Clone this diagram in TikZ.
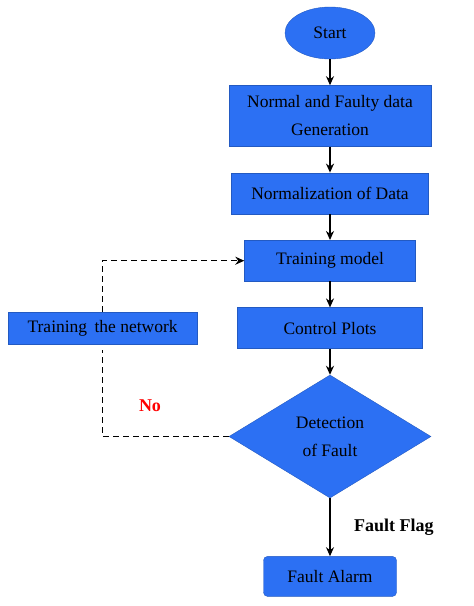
\documentclass[tikz,border=0pt]{standalone}
\usepackage{fontspec}
\setmainfont{Liberation Serif}
\usetikzlibrary{
  arrows.meta,
  shapes.geometric,
  positioning
}
\definecolor{boxblue}{RGB}{44,112,243}
\tikzset{
  >={Stealth[length=9pt, width=8pt]},
  node distance = 26pt and 40pt,
  every node/.style = {font=\fontsize{17.5}{28}\selectfont},
  block/.style = {draw=boxblue!80!black, fill=boxblue, align=center, inner sep=0pt},
  flow/.style = {->, line width=1.6pt},
  back/.style = {dash pattern=on 6pt off 4pt, line width=1.3pt},
  lab/.style = {font=\fontsize{18}{20}\selectfont\bfseries},
}
\begin{document}
\begin{tikzpicture}[x=1pt, y=1pt]
  \useasboundingbox (0,0) rectangle (474,-606);
  \node[block, ellipse, minimum width=90pt, minimum height=52pt] (start) at (330,-33) {Start};
  \node[block, below=of start, minimum width=202pt, minimum height=61pt] (gen)
      {Normal and Faulty data\\Generation};
  \node[block, below=of gen, minimum width=197pt, minimum height=41pt] (norm) {Normalization of Data};
  \node[block, below=of norm, minimum width=171pt, minimum height=41pt] (train) {Training model};
  \node[block, below=of train, minimum width=185pt, minimum height=41pt] (ctrl) {Control Plots};
  \node[block, left=of ctrl, minimum width=189pt, minimum height=32pt] (net) {Training\, the network};
  \node[block, diamond, below=of ctrl, minimum width=202pt, minimum height=123pt] (det)
      {Detection\\of Fault};
  \node[block, rounded corners=4pt, below=58pt of det, minimum width=133pt, minimum height=40pt] (alarm)
      {Fault Alarm};
  \node[lab, text=red] (no) at (150,-406) {No};
  \draw[flow]
      (start) edge (gen)
      (gen) edge (norm)
      (norm) edge (train)
      (train) edge (ctrl)
      (ctrl) edge (det)
      (det) edge node[lab, right=20pt]{Fault Flag} (alarm);
  \draw[back] (det.west) -| ([yshift=-6pt]net.south);
  \draw[back, ->] (net.north) |- (train.west);
\end{tikzpicture}
\end{document}
